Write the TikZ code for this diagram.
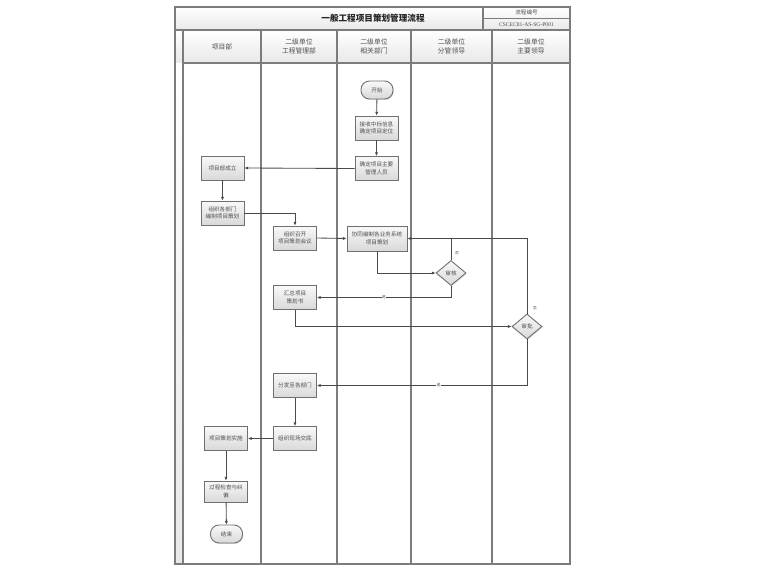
\documentclass[tikz,border=0pt]{standalone}
\usepackage{fontspec}
\setmainfont{Noto Sans CJK SC}
\newfontfamily\latserif{Liberation Serif}
\usetikzlibrary{shapes.geometric,arrows.meta,shadows}
\definecolor{framec}{HTML}{7C7C7C}
\definecolor{linec}{HTML}{4A4A4A}
\definecolor{txtc}{HTML}{505050}
\definecolor{boxb}{HTML}{707070}
\tikzset{
  frameline/.style={draw=framec, line width=1.1pt},
  hdrfill/.style={top color=white, bottom color=gray!18},
  hdrtext/.style={text=txtc, font=\fontsize{6.8}{8.5}\selectfont, align=center},
  procbox/.style={draw=boxb, line width=0.9pt, top color=gray!5, bottom color=gray!30,
    minimum width=43pt, minimum height=24pt, inner sep=1pt, align=center,
    text=txtc, font=\fontsize{5.6}{7.6}\selectfont,
    drop shadow={shadow xshift=0.9pt, shadow yshift=-0.9pt, fill=gray!45, opacity=0.6}},
  termbox/.style={procbox, rounded corners=8.5pt, minimum width=32pt, minimum height=18pt},
  decbox/.style={procbox, diamond, minimum width=30pt, minimum height=25pt, inner sep=0pt},
  conn/.style={draw=linec, line width=0.85pt, -{Latex[length=3.6pt,width=3.2pt]}},
  plainconn/.style={draw=linec, line width=0.85pt},
  yesno/.style={text=txtc, font=\fontsize{3.8}{4}\selectfont, inner sep=0.5pt}
}
\begin{document}
\begin{tikzpicture}[x=1pt,y=-1pt]
\useasboundingbox (0,0) rectangle (760,570);
\fill[white] (0,0) rectangle (760,570);
% title and header rows
\path[hdrfill] (175,7) rectangle (570,30);
\path[hdrfill] (175,30) rectangle (570,63);
\path[hdrfill] (175,63) rectangle (183,564);
\draw[frameline] (175,7) rectangle (570,564);
\draw[frameline] (175,30) -- (570,30);
\draw[frameline] (483,7) -- (483,30);
\draw[frameline] (483,18.5) -- (570,18.5);
\draw[frameline] (183,30) -- (183,564);
\draw[frameline] (183,63) -- (570,63);
\foreach \xx in {261,337,411,492} \draw[frameline] (\xx,30) -- (\xx,564);
\node[font=\bfseries\fontsize{8.6}{10}\selectfont, text=black!85] (title) at (373,18.5) {一般工程项目策划管理流程};
\node[hdrtext, font=\fontsize{5.6}{7}\selectfont] (codelbl) at (526.5,12.8) {流程编号};
\node[hdrtext, font=\latserif\fontsize{5.6}{7}\selectfont] (code) at (526.5,24.3) {CSCEC81-AS-SG-P001};
\node[hdrtext] (h1) at (222,46.5) {项目部};
\node[hdrtext] (h2) at (299,46.5) {二级单位\\工程管理部};
\node[hdrtext] (h3) at (374,46.5) {二级单位\\相关部门};
\node[hdrtext] (h4) at (451.5,46.5) {二级单位\\分管领导};
\node[hdrtext] (h5) at (531,46.5) {二级单位\\主要领导};
% nodes
\node[termbox] (start) at (377,90) {开始};
\node[procbox] (recv) at (376.5,128) {接收中标信息\\确定项目定位};
\node[procbox] (pers) at (376.5,168.5) {确定项目主要\\管理人员};
\node[procbox] (estb) at (222.5,168) {项目部成立};
\node[procbox] (org) at (222.5,213) {组织各部门\\编制项目策划};
\node[procbox] (meet) at (295,238) {组织召开\\项目策划会议};
\node[procbox, minimum width=60pt, minimum height=25pt] (coop) at (377,238.5) {协同编制各业务系统\\项目策划};
\node[decbox] (rev) at (451,273) {审核};
\node[procbox] (sumb) at (295,297.5) {汇总项目\\策划书};
\node[decbox] (appr) at (527,326.5) {审批};
\node[procbox] (dist) at (295,385.5) {分发至各部门};
\node[procbox] (brief) at (295,438.5) {组织现场交底};
\node[procbox] (impl) at (226,438.5) {项目策划实施};
\node[procbox, minimum height=21pt] (chk) at (226,491.5) {过程检查与纠\\偏};
\node[termbox] (endn) at (226.5,534) {结束};
% connectors
\draw[conn] (start) -- (recv);
\draw[conn] (recv) -- (pers);
\draw[conn] (pers.west) -- (estb.east);
\draw[conn] (estb) -- (org);
\draw[conn] (org.east) -| (meet.north);
\draw[conn] (meet.east) -- (coop.west);
\draw[conn] (coop.south) |- (rev.west);
\draw[plainconn] (rev.north) -- (rev.north |- coop.east);
\draw[conn] (appr.north) |- (coop.east);
\draw[conn] (rev.south) |- node[yesno, fill=white, pos=0.75] {是} (sumb.east);
\draw[conn] (sumb.south) |- (appr.west);
\draw[conn] (appr.south) |- node[yesno, fill=white, pos=0.71] {是} (dist.east);
\draw[conn] (dist) -- (brief);
\draw[conn] (brief.west) -- (impl.east);
\draw[conn] (impl) -- (chk);
\draw[conn] (chk) -- (endn);
\node[yesno] (no1) at (457,253) {否};
\node[yesno] (no2) at (535,308) {否};
\end{tikzpicture}
\end{document}
